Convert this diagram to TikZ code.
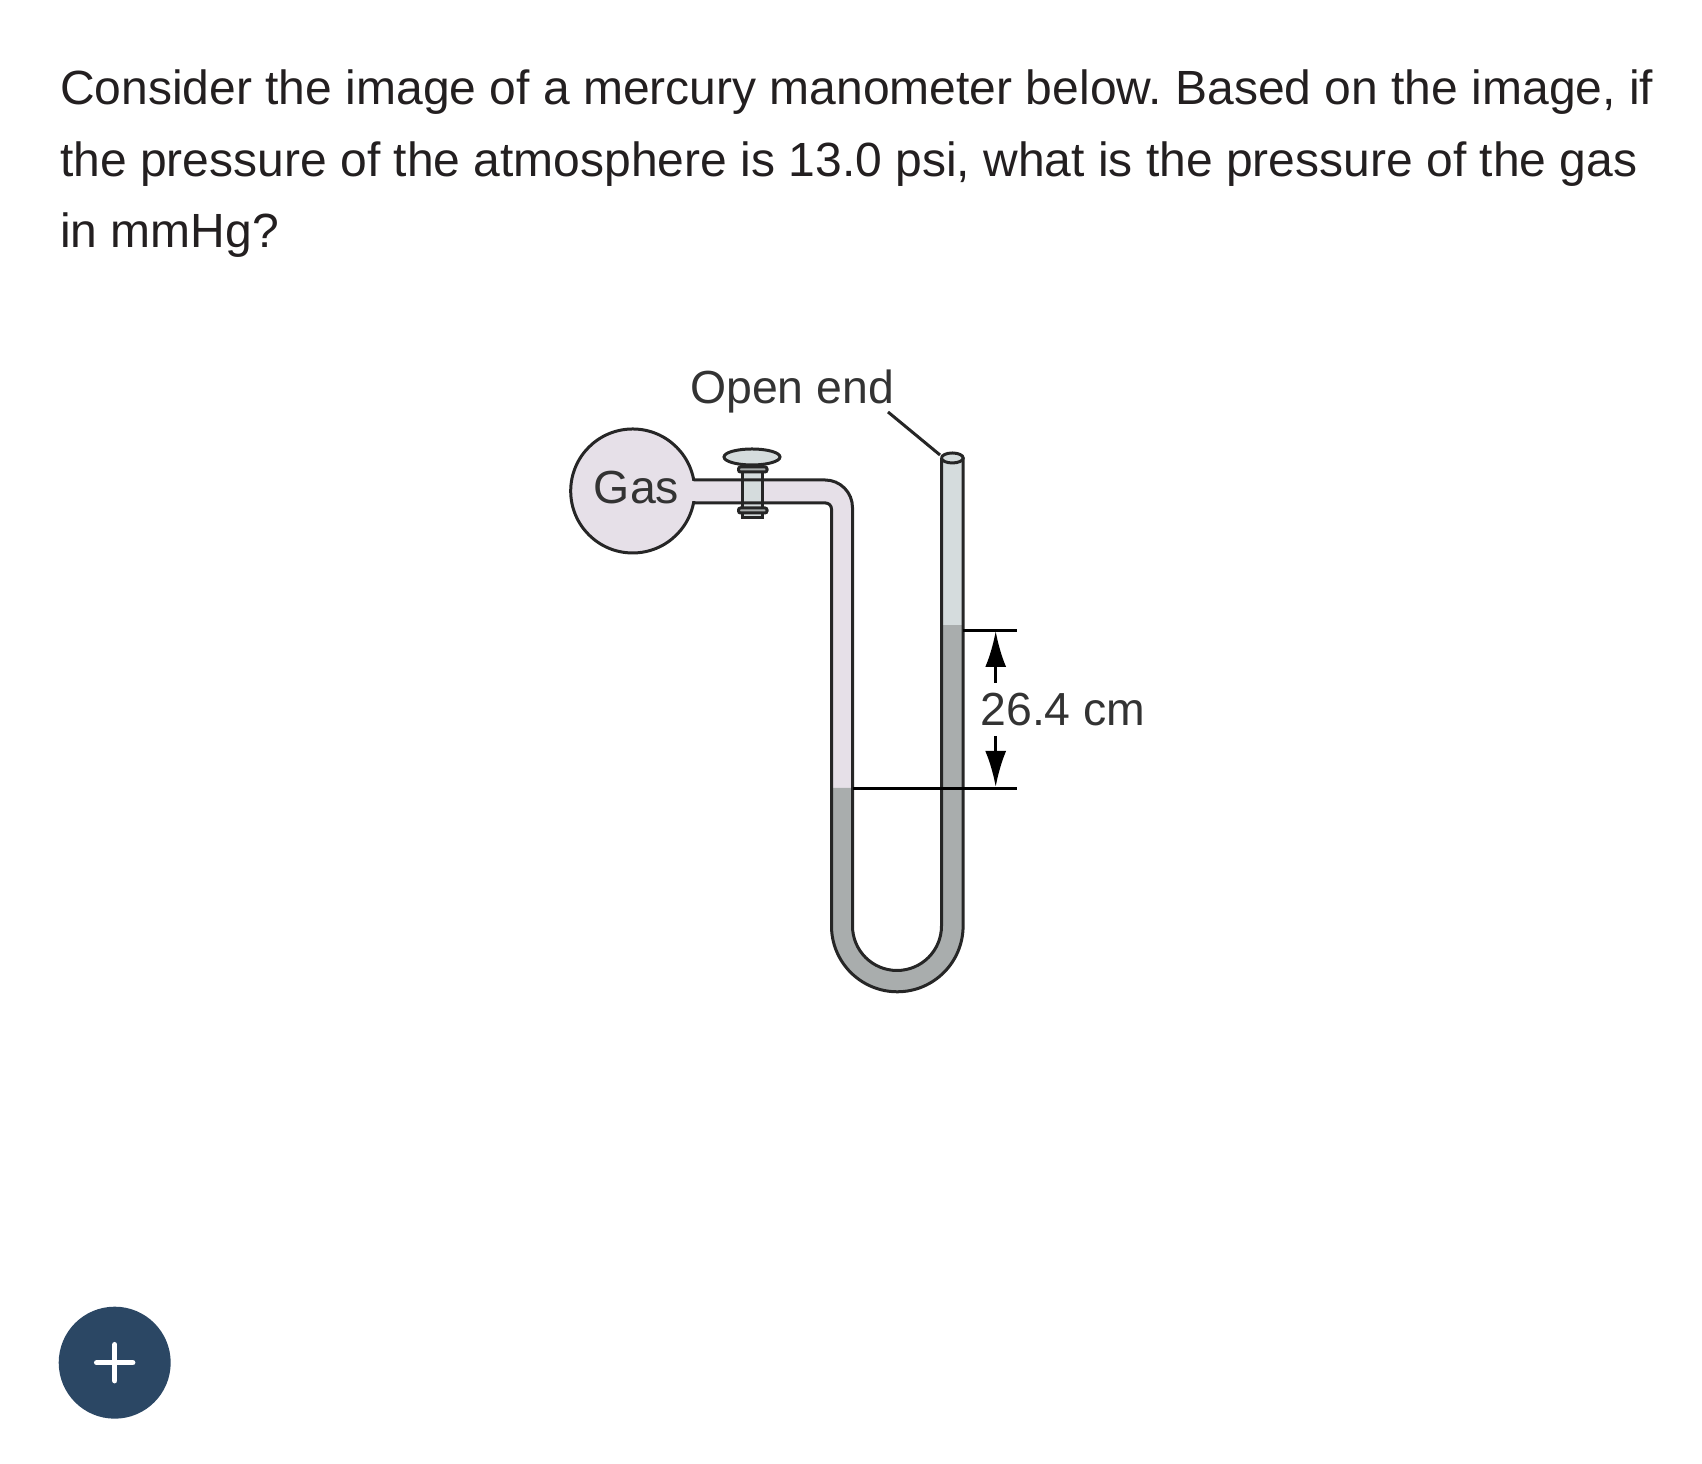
\documentclass[tikz,border=0pt]{standalone}
\usepackage{fontspec}
\setmainfont{Liberation Sans}
\usetikzlibrary{arrows.meta}
\definecolor{gasfill}{HTML}{E6E0E8}
\definecolor{hgfill}{HTML}{A9ADAD}
\definecolor{airfill}{HTML}{D5DCDD}
\definecolor{collarfill}{HTML}{A9ADAD}
\definecolor{plusblue}{HTML}{2B4764}
\definecolor{inktext}{HTML}{231F20}
\tikzset{
	question/.style={anchor=base west, inner sep=0pt, text=inktext, font=\fontsize{13.66pt}{16pt}\selectfont},
	label/.style={inner sep=0pt, text=black!80, font=\fontsize{13.2pt}{15pt}\selectfont},
	tube/.style={line width=0.03cm, color=black!85},
	dim/.style={line width=0.03cm, color=black},
	dimtip/.style={-{Latex[length=0.36cm, width=0.21cm]}, line width=0.03cm}
}

\begin{document}
\frenchspacing
\begin{tikzpicture}
	%%%%% START %%%%%
	\useasboundingbox (0, 0) rectangle (17.02, 14.64);

	\node[question] (line1) at (0.595, 13.59) {Consider the image of a mercury manometer below. Based on the image, if};
	\node[question] (line2) at (0.595, 12.87) {the pressure of the atmosphere is 13.0 psi, what is the pressure of the gas};
	\node[question] (line3) at (0.595, 12.16) {in mmHg?};

	% gas side of the tube
	\fill[gasfill] (6.90, 9.84) -- (8.25, 9.84) arc (90:0:0.275) -- (8.525, 6.76) -- (8.315, 6.76) -- (8.315, 9.55) arc (0:90:0.06) -- (6.90, 9.61) -- cycle;
	% mercury
	\fill[hgfill] (8.315, 6.76) -- (8.315, 5.38) arc (180:360:0.658) -- (9.632, 8.39) -- (9.415, 8.39) -- (9.415, 5.38) arc (0:-180:0.445) -- (8.525, 6.76) -- cycle;
	% air in the open arm
	\fill[airfill] (9.415, 8.39) rectangle (9.632, 10.06);

	% bulb
	\draw[tube, fill=gasfill] (6.327, 9.73) circle (0.62);
	\fill[gasfill] (6.90, 9.625) rectangle (6.97, 9.825);
	\node[label] (gas) at (6.365, 9.60) [anchor=base] {Gas};

	% stopcock stem under the tube lines
	\draw[tube, fill=airfill] (7.42, 9.98) rectangle (7.62, 9.46);

	\draw[tube] (6.937, 9.84) -- (8.25, 9.84) arc (90:0:0.275) -- (8.525, 5.38) arc (180:360:0.445) -- (9.415, 10.06);
	\draw[tube] (6.937, 9.61) -- (8.255, 9.61) arc (90:0:0.06) -- (8.315, 5.38) arc (180:360:0.658) -- (9.632, 10.06);
	\draw[tube, fill=airfill] (9.415, 10.06) arc (180:0:0.1085 and 0.05) arc (0:-180:0.1085 and 0.05);

	\draw[tube, fill=collarfill, rounded corners=0.02cm] (7.385, 9.92) rectangle (7.67, 9.97);
	\draw[tube, fill=collarfill, rounded corners=0.02cm] (7.385, 9.51) rectangle (7.67, 9.56);
	\draw[tube, fill=airfill] (7.52, 10.07) ellipse (0.28 and 0.08);

	% labels and dimension
	\node[label] (openend) at (7.92, 10.60) [anchor=base] {Open end};
	\coordinate (leadstart) at (8.88, 10.52);
	\coordinate (leadend) at (9.40, 10.09);
	\draw[tube] (leadstart) -- (leadend);

	\coordinate (hgtop) at (9.632, 8.335);
	\coordinate (hgtopend) at (10.167, 8.335);
	\coordinate (hglow) at (8.525, 6.755);
	\coordinate (hglowend) at (10.167, 6.755);
	\draw[dim] (hgtop) -- (hgtopend);
	\draw[dim] (hglow) -- (hglowend);
	\node[label] (height) at (10.63, 7.38) [anchor=base] {26.4 cm};
	\coordinate (uptail) at (9.957, 7.81);
	\coordinate (uptip) at (9.957, 8.33);
	\coordinate (downtail) at (9.957, 7.28);
	\coordinate (downtip) at (9.957, 6.77);
	\draw[dimtip] (uptail) -- (uptip);
	\draw[dimtip] (downtail) -- (downtip);

	% plus button
	\node[circle, fill=plusblue, minimum size=1.12cm, inner sep=0pt] (addbtn) at (1.147, 1.013) {};
	\draw[white, line width=0.055cm, line cap=round] (0.967, 1.013) -- (1.327, 1.013);
	\draw[white, line width=0.055cm, line cap=round] (1.147, 0.833) -- (1.147, 1.193);
	%%%%% END %%%%%
\end{tikzpicture}
\end{document}
